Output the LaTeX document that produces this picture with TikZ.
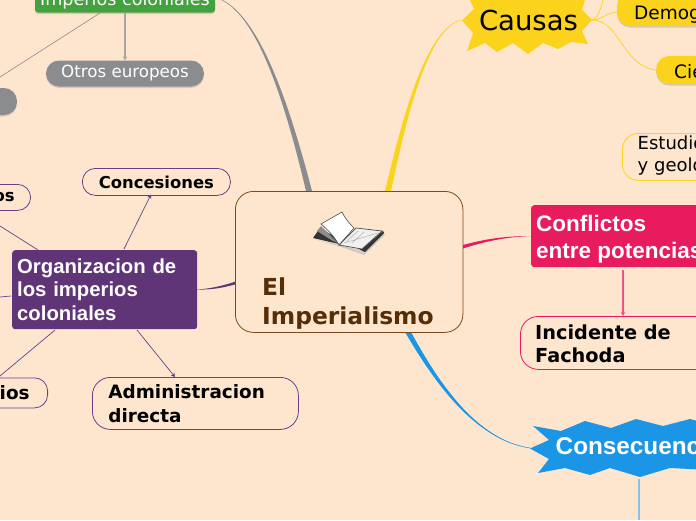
\documentclass[tikz,border=0pt]{standalone}
\usepackage{fontspec}
\setmainfont{DejaVu Sans}
\newfontfamily\arialf{Liberation Sans}
\usetikzlibrary{calc,shadows,arrows.meta}
\definecolor{bg}{HTML}{FEE6CE}
\definecolor{brownc}{HTML}{7A4A1E}
\definecolor{brownt}{HTML}{552E06}
\definecolor{greenc}{HTML}{43A23F}
\definecolor{grayc}{HTML}{8B8C90}
\definecolor{purplec}{HTML}{5F3577}
\definecolor{purplel}{HTML}{6D3D8C}
\definecolor{yellowc}{HTML}{FBD31C}
\definecolor{pinkc}{HTML}{E71B5E}
\definecolor{bluec}{HTML}{1B96E6}
\newcommand{\fnt}[2]{\fontsize{#1}{#2}\selectfont}
\newcommand{\taper}[6]{\fill[#1] ($(#2)+(#6,0)$) .. controls ($(#3)+(.68*#6,0)$) and ($(#4)+(.34*#6,0)$) .. (#5) .. controls ($(#4)-(.34*#6,0)$) and ($(#3)-(.68*#6,0)$) .. ($(#2)-(#6,0)$) -- cycle; \draw[#1,line width=.5pt] (#2) .. controls (#3) and (#4) .. (#5);}
\tikzset{
 box/.style={anchor=north west,inner xsep=#1,inner ysep=0pt,align=left},
 box/.default=5pt,
 softshadow/.style={drop shadow={opacity=.3,shadow xshift=0pt,shadow yshift=-1.5pt}},
 pill/.style={draw=purplel,line width=.8pt,fill=bg,rounded corners=13pt,text=black},
 lnk/.style={line width=.7pt},
 tip/.style={-{Stealth[length=4pt,width=4.5pt]}}
}
\begin{document}
\begin{tikzpicture}[x=1pt,y=-1pt]
\useasboundingbox (0,0) rectangle (696,520);
\clip (0,0) rectangle (696,520);
\fill[bg] (0,0) rectangle (696,520);
% connector ends
\coordinate (gs) at (309,191); \coordinate (ge) at (222,0);
\coordinate (ys) at (388,191); \coordinate (ye) at (461,20);
\coordinate (ps) at (463,246); \coordinate (pe) at (531,236);
\coordinate (bs) at (408,332); \coordinate (be) at (530,448);
\coordinate (vs) at (235,284); \coordinate (ve) at (197,289.5);
\coordinate (cr) at (592,20);
% main connectors
\taper{grayc}{gs}{290,115}{262,20}{ge}{3pt}
\taper{yellowc}{ys}{403,125}{425,30}{ye}{3pt}
\taper{bluec}{bs}{435,380}{475,440}{be}{3pt}
\fill[pinkc] (463,245) .. controls (485,239) and (505,236) .. (pe) .. controls (505,237) and (485,241.5) .. (463,248.5) -- cycle;
\fill[purplec] (235,281.7) .. controls (222,286) and (210,288.7) .. (ve) .. controls (210,290) and (222,288) .. (235,284.5) -- cycle;
% Central node
\node[draw=brownc,line width=.8pt,fill=bg,rounded corners=18pt,minimum width=227.5pt,minimum height=141pt,anchor=north west,inner sep=0pt] (center) at (235,191) {};
\node[box=0pt,font=\bfseries\fnt{23.4}{29},text=brownt] (title) at (262,277.5) {El\\Imperialismo};
% Book icon
\begin{scope}
\fill[black!25,opacity=.7] (314,239) -- (341,247) -- (364,255) -- (385,235) -- (383,232) -- (360,250) -- cycle;
\fill[black!80] (313,238) -- (320,228) -- (340,240) -- (365,252) -- (384,233) -- (383,231) -- (362,249) -- (339,244) -- cycle;
\fill[black!45] (317,231) -- (321,226) -- (338,243) -- (333,241) -- cycle;
\fill[black!6] (339,245) -- (356,228) -- (382,231) -- (362,249) -- cycle;
\draw[black!35,line width=.4pt] (347,241) -- (358,231) (352,243) -- (364,232) (344,243) -- (378,233);
\fill[white,draw=black!70,line width=.6pt] (321,224) -- (342,212) .. controls (346,220) and (350,224) .. (354,228) -- (339,245) .. controls (334,236) and (328,230) .. (321,224) -- cycle;
\draw[black!70,line width=.7pt] (339,245) -- (356,228) -- (382,231) -- (362,249) -- cycle;
\end{scope}
% Imperios coloniales
\node[fill=greenc,rounded corners=3pt,minimum width=180pt,minimum height=24pt,inner sep=0pt,text=white,font=\fnt{17.6}{18},softshadow] (imp) at (125,0.5) {Imperios coloniales};
\node[fill=grayc,rounded corners=13pt,minimum width=158pt,minimum height=26pt,inner sep=0pt,text=white,font=\fnt{16.7}{18},softshadow] (otros) at (125,73.5) {Otros europeos};
\node[fill=grayc,rounded corners=13pt,minimum width=60pt,minimum height=27pt,inner sep=0pt,softshadow] (gleft) at (-13,101.5) {};
\coordinate (impb) at (125,13); \coordinate (impa) at (100,13); \coordinate (gl) at (0,77);
\draw[draw=black!35,line width=1.2pt,tip] (impb) -- (otros.north);
\draw[draw=grayc,line width=.6pt] (impa) -- (gl);
% Organizacion
\node[fill=purplec,rounded corners=3pt,minimum width=185pt,minimum height=79pt,text width=175pt,inner xsep=5pt,inner ysep=0pt,anchor=north west,align=left,text=white,font=\arialf\bfseries\fnt{20.3}{23.5}] (org) at (12,250) {Organizacion de\\los imperios\\coloniales};
\node[pill,minimum width=148pt,minimum height=27pt,inner sep=0pt,font=\bfseries\fnt{16.4}{18},anchor=north west] (conc) at (82,168) {Concesiones};
\node[pill,minimum width=60pt,minimum height=26pt,text width=44pt,inner xsep=16pt,inner ysep=0pt,align=right,font=\bfseries\fnt{16.4}{18},anchor=north east] (osn) at (31,184) {os};
\node[pill,minimum width=60pt,minimum height=30pt,text width=42pt,inner xsep=18pt,inner ysep=0pt,align=right,font=\bfseries\fnt{18.4}{22},anchor=north east] (ios) at (48,377.5) {ios};
\node[pill,rounded corners=18pt,minimum width=206pt,minimum height=52pt,text width=174pt,inner xsep=16pt,inner ysep=0pt,align=left,font=\bfseries\fnt{18.4}{23.5},anchor=north west] (adm) at (92,377) {Administracion\\directa};
\coordinate (o1) at (124,249); \coordinate (o2) at (38,250); \coordinate (o3) at (55,330); \coordinate (o4) at (137,330);
\coordinate (c1) at (151,194.5); \coordinate (c2) at (0,226); \coordinate (c3) at (0,376); \coordinate (c4) at (175,377);
\coordinate (c5) at (0,297); \coordinate (o5) at (11,296);
\draw[draw=purplel,lnk,tip] (o1) -- (c1);
\draw[draw=purplel,lnk] (o2) -- (c2);
\draw[draw=purplel,lnk] (o3) -- (c3);
\draw[draw=purplel,lnk,tip] (o4) -- (c4);
\draw[draw=purplel,lnk] (c5) -- (o5);
% Causas star
\fill[yellowc] (462,20.5) -- (474,9) -- (467,-6) -- (490,0) -- (528,-6) -- (575,-6) -- (586,-4) -- (582,10) -- (592,20) -- (582,31) -- (588,44) -- (571,42) -- (558,49) -- (543,43) -- (528,54) -- (513,43) -- (497,52) -- (485,43) -- (467,51) -- (473,33) -- cycle;
\node[font=\fnt{27.5}{30},text=black,inner sep=0pt] (causas) at (528.5,20.5) {Causas};
\node[fill=yellowc,rounded corners=13pt,minimum width=110pt,minimum height=34pt,inner sep=0pt,softshadow,anchor=west] (demo) at (617,9) {};
\node[anchor=base west,inner sep=0pt,font=\fnt{18.5}{20},text=black] (demot) at (634,19.5) {Demog};
\node[fill=yellowc,rounded corners=13pt,minimum width=110pt,minimum height=28pt,inner sep=0pt,softshadow,anchor=west] (cie) at (656,70) {};
\node[anchor=base west,inner sep=0pt,font=\fnt{18.5}{20},text=black] (ciet) at (674,78) {Cie};
\node[draw=yellowc,line width=.8pt,fill=bg,rounded corners=16pt,minimum width=110pt,minimum height=47pt,inner sep=0pt,anchor=north west] (est) at (622,133) {};
\node[box=0pt,font=\fnt{18}{22},text=black] (estt) at (637.5,135.5) {Estudio\\y geolo};
\coordinate (dm) at (617,12); \coordinate (up) at (603,0); \coordinate (cm) at (656,70);
\draw[draw=yellowc,line width=.7pt] (cr) .. controls (602,20) and (605,13) .. (dm);
\draw[draw=yellowc,line width=.7pt] (cr) .. controls (598,18) and (601,8) .. (up);
\draw[draw=yellowc,line width=.7pt] (cr) .. controls (620,20) and (622,66) .. (cm);
% Conflictos
\node[fill=pinkc,rounded corners=3pt,minimum width=190pt,minimum height=62pt,anchor=north west,inner sep=0pt] (conf) at (531,205) {};
\node[box=0pt,font=\arialf\bfseries\fnt{22.5}{27},text=white] (conft) at (536,214.5) {Conflictos\\entre potencias};
\node[draw=pinkc,line width=.8pt,fill=bg,rounded corners=18pt,minimum width=210pt,minimum height=53pt,inner sep=0pt,anchor=north west] (inc) at (520,316) {};
\node[box=0pt,font=\bfseries\fnt{19.3}{23.5},text=black] (inct) at (535,324.5) {Incidente de\\Fachoda};
\coordinate (cf) at (623,270); \coordinate (ic) at (623,316);
\draw[draw=pinkc!75,line width=1.1pt,tip] (cf) -- (ic);
% Consecuencias star
\fill[bluec] (530,448.5) -- (549,440) -- (533,426) -- (561,431) -- (585,421) -- (611,428) -- (636,419) -- (663,426) -- (690,419) -- (710,424) -- (710,470) -- (670,468) -- (640,477) -- (610,468) -- (590,475) -- (565,468) -- (538,473) -- (549,459) -- cycle;
\node[anchor=base west,inner sep=0pt,font=\arialf\bfseries\fnt{24.3}{28},text=white] (cons) at (555.5,454.5) {Consecuenc};
\coordinate (cb) at (639,479); \coordinate (cd) at (639,520);
\draw[draw=bluec!55!white,line width=1.3pt] (cb) -- (cd);
\end{tikzpicture}
\end{document}
